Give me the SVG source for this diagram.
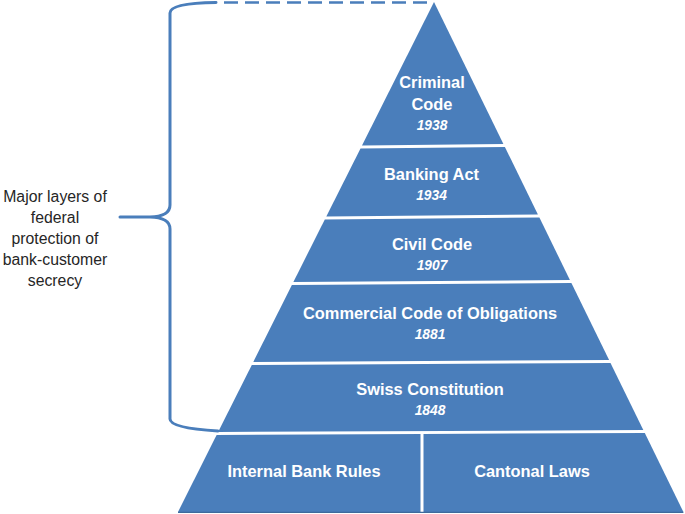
<svg xmlns="http://www.w3.org/2000/svg" width="685" height="514" viewBox="0 0 685 514">
<style>
.layer{fill:#4a7ebb;}
.t{font-family:"Liberation Sans",Arial,sans-serif;font-weight:bold;font-size:16.4px;fill:#ffffff;text-anchor:middle;}
.y{font-family:"Liberation Sans",Arial,sans-serif;font-weight:bold;font-style:italic;font-size:13.8px;fill:#ffffff;text-anchor:middle;}
.lbl{font-family:"Liberation Sans",Arial,sans-serif;font-size:15.8px;fill:#262626;text-anchor:middle;}
.brace{fill:none;stroke:#4a7ebb;stroke-width:3;stroke-linecap:round;stroke-linejoin:round;}
</style>
<rect x="0" y="0" width="685" height="514" fill="#ffffff"/>
<g id="connectors">
<path class="brace" d="M 216 2.5 Q 170 3 170 13 L 170 205 Q 170 216.5 150 217 L 120 217 M 150 217 Q 170 217.5 170 229 L 170 419 Q 170 428 218 431"/>
<line x1="224" y1="2.5" x2="433" y2="2.5" stroke="#4a7ebb" stroke-width="2.5" stroke-dasharray="14 7"/>
</g>
<g id="criminal-code">
<polygon class="layer" points="434,2 503.4,144 362,145.5"/>
<text class="t" x="432" y="88">Criminal</text>
<text class="t" x="432" y="110">Code</text>
<text class="y" x="432" y="130">1938</text>
</g>
<g id="banking-act">
<polygon class="layer" points="360.5,148.5 504.9,147 537.9,214.5 326.3,216.5"/>
<text class="t" x="431.5" y="180">Banking Act</text>
<text class="y" x="431.5" y="200">1934</text>
</g>
<g id="civil-code">
<polygon class="layer" points="324.8,219.5 539.4,217.5 569.9,280 293.4,282"/>
<text class="t" x="432" y="250">Civil Code</text>
<text class="y" x="432" y="270">1907</text>
</g>
<g id="commercial-code">
<polygon class="layer" points="291.9,285 571.4,283 609.1,360 253.3,362"/>
<text class="t" x="430" y="319">Commercial Code of Obligations</text>
<text class="y" x="430" y="339">1881</text>
</g>
<g id="swiss-constitution">
<polygon class="layer" points="251.8,365 610.5,363 643.3,430 218.1,432"/>
<text class="t" x="430" y="395">Swiss Constitution</text>
<text class="y" x="430" y="415">1848</text>
</g>
<g id="internal-bank-rules">
<polygon class="layer" points="216.6,435 420.5,434 420.5,512 178,512"/>
<text class="t" x="304" y="477">Internal Bank Rules</text>
</g>
<g id="cantonal-laws">
<polygon class="layer" points="423.5,434 644.8,433 683.4,512 423.5,512"/>
<text class="t" x="532" y="477">Cantonal Laws</text>
</g>
<g id="outline">
<line x1="178" y1="512.3" x2="683.4" y2="512.3" stroke="#3e6a9c" stroke-width="1.2"/>
</g>
<g id="label">
<text class="lbl" x="55" y="202">Major layers of</text>
<text class="lbl" x="55" y="223">federal</text>
<text class="lbl" x="55" y="244">protection of</text>
<text class="lbl" x="55" y="265">bank-customer</text>
<text class="lbl" x="55" y="286">secrecy</text>
</g>
</svg>
